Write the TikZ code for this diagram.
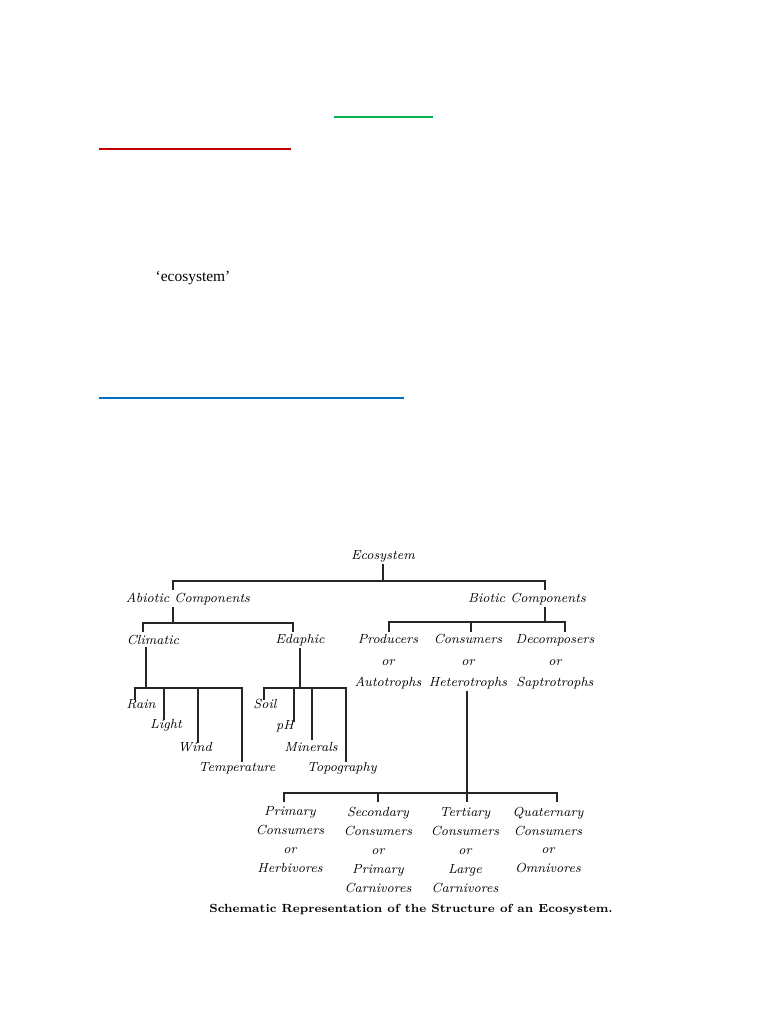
\documentclass[tikz,border=0pt]{standalone}
\usepackage{fontspec}
\newfontfamily\docfont{Liberation Serif}
\usepackage{xcolor}
\definecolor{rulegreen}{RGB}{0,176,80}
\definecolor{rulered}{RGB}{192,0,0}
\definecolor{ruleblue}{RGB}{0,112,192}
\tikzset{
	lbl/.style={font=\fontsize{7.5}{12.2}\selectfont\itshape,inner sep=1pt,align=center},
	lblb/.style={font=\fontsize{7.5}{10.8}\selectfont\itshape,inner sep=1pt,align=center},
	br/.style={line width=1pt,black!85},
	hrule/.style={line width=1.5pt},
}

\begin{document}
\begin{tikzpicture}[x=0.02cm,y=-0.02cm]
	\useasboundingbox (0,0) rectangle (768,1024);
	% coloured rules of the page
	\draw[hrule,rulegreen] (334,117)--(433,117);
	\draw[hrule,rulered] (99,149)--(291,149);
	\draw[hrule,ruleblue] (99,398)--(404,398);
	\node[font=\docfont\fontsize{8.8}{10}\selectfont,inner sep=0pt] (word) at (193,278) {‘ecosystem’};
	% the tree
	\node[lbl] (eco) at (383,556) {Ecosystem};
	\node[lbl] (abio) at (188,599) {Abiotic Components};
	\node[lbl] (bio) at (527,599) {Biotic Components};
	\node[lbl] (clim) at (153,640) {Climatic};
	\node[lbl] (edap) at (300,640) {Edaphic};
	\node[lbl] (rain) at (141,704) {Rain};
	\node[lbl] (light) at (166,725) {Light};
	\node[lbl] (wind) at (195,747) {Wind};
	\node[lbl] (temp) at (237,768) {Temperature};
	\node[lbl] (soil) at (265,704) {Soil};
	\node[lbl] (ph) at (285,726) {pH};
	\node[lbl] (mine) at (311,747) {Minerals};
	\node[lbl] (topo) at (342,768) {Topography};
	\node[lbl] (prod) at (388,662) {Producers\\or\\Autotrophs};
	\node[lbl] (cons) at (468,662) {Consumers\\or\\Heterotrophs};
	\node[lbl] (deco) at (555,662) {Decomposers\\or\\Saptrotrophs};
	\node[lblb] (prim) at (290,840) {Primary\\Consumers\\or\\Herbivores};
	\node[lblb] (seco) at (378,850) {Secondary\\Consumers\\or\\Primary\\Carnivores};
	\node[lblb] (tert) at (465,850) {Tertiary\\Consumers\\or\\Large\\Carnivores};
	\node[lblb] (quat) at (548,840) {Quaternary\\Consumers\\or\\Omnivores};
	\node[font=\fontsize{6.7}{9}\selectfont\bfseries,inner sep=1pt] (cap) at (411,910) {Schematic Representation of the Structure of an Ecosystem.};
	% branch ends
	\coordinate (e1) at (173,590);
	\coordinate (e2) at (545,590);
	\coordinate (a1) at (143,632);
	\coordinate (a2) at (293,632);
	\coordinate (b1) at (389,632);
	\coordinate (b2) at (471,632);
	\coordinate (b3) at (565,632);
	\coordinate (c1) at (135,700);
	\coordinate (c2) at (164,720);
	\coordinate (c3) at (198,743);
	\coordinate (c4) at (242,762);
	\coordinate (d1) at (264,700);
	\coordinate (d2) at (294,722);
	\coordinate (d3) at (312,740);
	\coordinate (d4) at (346,762);
	\coordinate (h1) at (284,802);
	\coordinate (h2) at (378,802);
	\coordinate (h3) at (467,802);
	\coordinate (h4) at (557,802);
	\draw[br] (eco.south)--(eco.south |- 0,581);
	\draw[br] (e1)--(e1 |- 0,581)-|(e2);
	\draw[br] (abio.south -| e1)--(e1 |- 0,623);
	\draw[br] (a1)--(a1 |- 0,623)-|(a2);
	\draw[br] (bio.south -| e2)--(e2 |- 0,622);
	\draw[br] (b1)--(b1 |- 0,622)-|(b3);
	\draw[br] (b2)--(b2 |- 0,622);
	\draw[br] (clim.south -| 146,0)--(146,688);
	\draw[br] (c1)--(c1 |- 0,688)-|(c4);
	\draw[br] (c2)--(c2 |- 0,688);
	\draw[br] (c3)--(c3 |- 0,688);
	\draw[br] (edap.south)--(edap |- 0,688);
	\draw[br] (d1)--(d1 |- 0,688)-|(d4);
	\draw[br,line width=1.6pt] (d2)--(d2 |- 0,688);
	\draw[br] (d3)--(d3 |- 0,688);
	\draw[br] (cons.south -| h3)--(h3 |- 0,793);
	\draw[br] (h1)--(h1 |- 0,793)-|(h4);
	\draw[br] (h2)--(h2 |- 0,793);
	\draw[br] (h3)--(h3 |- 0,793);
\end{tikzpicture}
\end{document}
